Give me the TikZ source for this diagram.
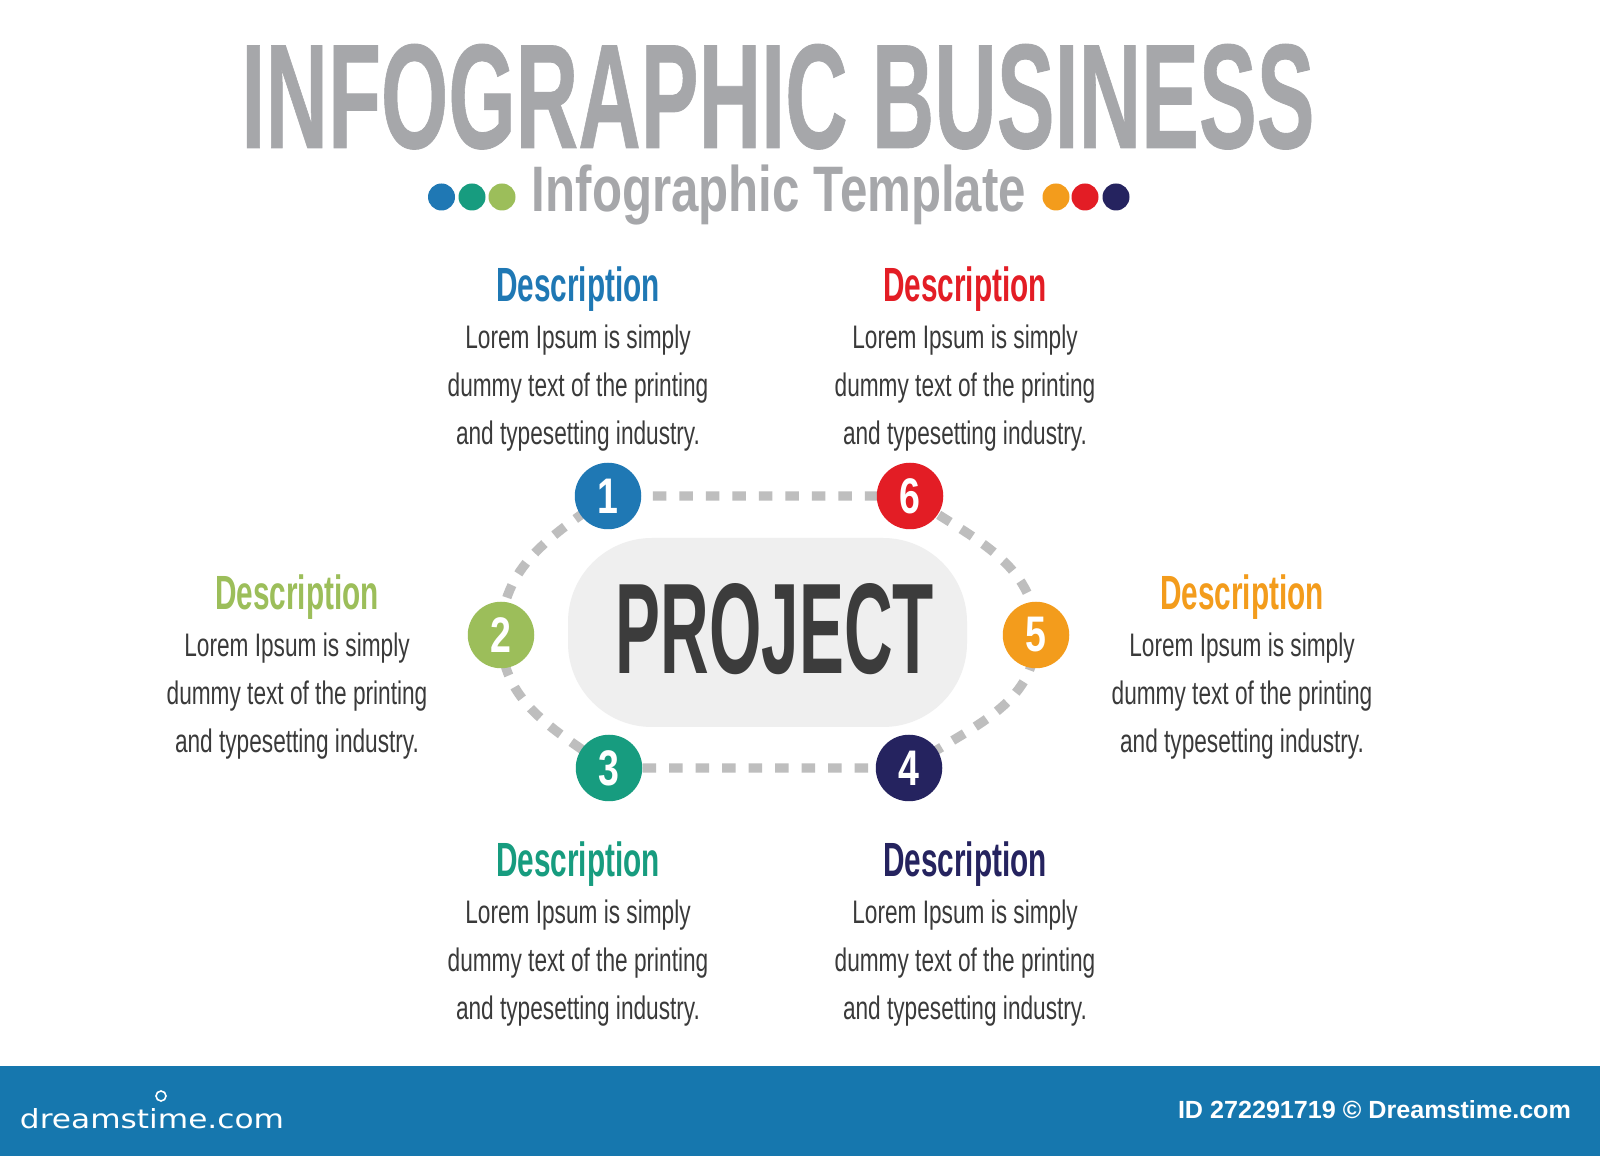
\documentclass[tikz,border=0pt]{standalone}
\usepackage{fontspec}
\usepackage{graphicx}
\usetikzlibrary{backgrounds}
\setmainfont{Liberation Sans}
\newfontfamily\titlefont[FakeBold=0.6]{Liberation Sans}
\newfontfamily\headfont[FakeStretch=0.62]{Liberation Sans}
\newfontfamily\bodyfont[FakeStretch=0.695]{Liberation Sans}
\newfontfamily\numfont[FakeStretch=0.75]{Liberation Sans}
\newfontfamily\logofont{DejaVu Sans}
\definecolor{cblue}{HTML}{1F78B4}
\definecolor{cteal}{HTML}{179C7F}
\definecolor{cgreen}{HTML}{9CBE5A}
\definecolor{cnavy}{HTML}{25235F}
\definecolor{corange}{HTML}{F39C1C}
\definecolor{cred}{HTML}{E31D25}
\definecolor{titlegray}{HTML}{A6A7AA}
\definecolor{pillgray}{HTML}{EFEFEF}
\definecolor{projgray}{HTML}{3C3C3C}
\definecolor{bodygray}{HTML}{3A3A3A}
\definecolor{dashgray}{HTML}{BEBEBE}
\definecolor{footblue}{HTML}{1677AE}
\tikzset{
  numcirc/.style={circle, minimum size=33.25pt, inner sep=0pt, text=white,
    font=\numfont\bfseries\fontsize{25}{25}\selectfont},
  dot/.style={circle, minimum size=13.5pt, inner sep=0pt},
  headtxt/.style={anchor=base, inner sep=0pt, font=\headfont\bfseries\fontsize{24}{24}\selectfont},
  bodytxt/.style={anchor=base, inner sep=0pt, text=bodygray, font=\bodyfont\fontsize{16.3}{20}\selectfont},
  dashline/.style={draw=dashgray, line width=4.7pt, dash pattern=on 6.75pt off 6.5pt},
  plaintxt/.style={anchor=base, inner sep=0pt}
}
\newcommand\descblock[4]{%
  \node[headtxt, text=#4] (#1h) at (#2,#3) {Description};
  \node[bodytxt] (#1a) at (#2,#3-47) {Lorem Ipsum is simply};
  \node[bodytxt] (#1b) at (#2,#3-95) {dummy text of the printing};
  \node[bodytxt] (#1c) at (#2,#3-143) {and typesetting industry.};
}
\begin{document}
\begin{tikzpicture}[x=0.5pt, y=0.5pt]
\useasboundingbox (0,0) rectangle (1600,1156);
% footer
\fill[footblue] (0,0) rectangle (1600,90);
\node[plaintxt, text=white] (logo) at (152,28) {\resizebox{132pt}{10pt}{\logofont dreamstime.com}};
\draw[white, line width=0.8pt] (161,60) circle (5);
\node[plaintxt, text=white] (credit) at (1374.5,37) {\resizebox{196.5pt}{9pt}{\bfseries ID 272291719 \textcopyright{} Dreamstime.com}};
% title
\node[plaintxt, text=titlegray] (title) at (778,1008) {\resizebox{536.5pt}{52pt}{\titlefont\bfseries INFOGRAPHIC BUSINESS}};
\node[plaintxt, text=titlegray] (subtitle) at (779,944) {\resizebox{247pt}{23.3pt}{\bfseries Infographic Template}};
\node[dot, fill=cblue] (d1) at (441.5,959) {};
\node[dot, fill=cteal] (d2) at (472,959) {};
\node[dot, fill=cgreen] (d3) at (502,959) {};
\node[dot, fill=corange] (d4) at (1056,959) {};
\node[dot, fill=cred] (d5) at (1085,959) {};
\node[dot, fill=cnavy] (d6) at (1116,959) {};
% center pill
\node[fill=pillgray, rounded corners=42pt, minimum width=199.5pt, minimum height=94.5pt, inner sep=0pt] (pill) at (767.5,523.5) {};
\node[plaintxt, text=projgray] (project) at (775,482) {\resizebox{159pt}{45pt}{\bfseries PROJECT}};
% numbered circles
\node[numcirc, fill=cblue] (c1) at (608,660) {1};
\node[numcirc, fill=cgreen] (c2) at (501,521) {2};
\node[numcirc, fill=cteal] (c3) at (609,388) {3};
\node[numcirc, fill=cnavy] (c4) at (909,388) {4};
\node[numcirc, fill=corange] (c5) at (1036,521) {5};
\node[numcirc, fill=cred] (c6) at (910,660) {6};
\begin{pgfonlayer}{background}
\fill[white] (0,90) rectangle (1600,1156);
\draw[dashline] (c1.center) to[out=215,in=90] (c2.center) to[out=-90,in=145] (c3.center) -- (c4.center) to[out=35,in=-90] (c5.center) to[out=90,in=-35] (c6.center) -- (c1.center);
\end{pgfonlayer}
% descriptions
\descblock{b1}{578}{854}{cblue}
\descblock{b6}{965}{854}{cred}
\descblock{b2}{297}{546}{cgreen}
\descblock{b5}{1242}{546}{corange}
\descblock{b3}{578}{279}{cteal}
\descblock{b4}{965}{279}{cnavy}
\end{tikzpicture}
\end{document}
